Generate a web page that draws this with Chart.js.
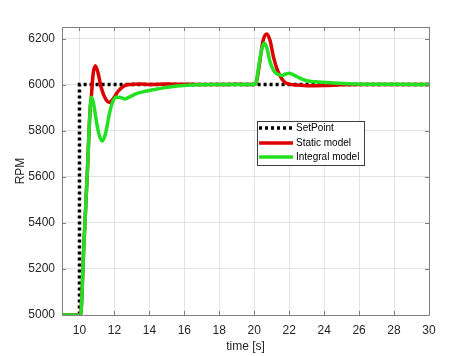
<!DOCTYPE html>
<html>
<head>
<meta charset="utf-8">
<script src="https://cdn.jsdelivr.net/npm/chart.js@4"></script>
<style>
html,body{margin:0;padding:0;background:#fff;}
#c{display:block;}
</style>
</head>
<body>
<canvas id="c" width="474" height="356" style="width:474px;height:356px"></canvas>
<script>
// ---- data ----
const xTickValues = [10,12,14,16,18,20,22,24,26,28,30];
const yTickValues = [5000,5200,5400,5600,5800,6000,6200];

const setpointTime = [9, 10, 10, 30];
const setpointRpm  = [5000, 5000, 6000, 6000];

const staticTime = [9,10.06,10.25,10.45,10.6,10.68,10.78,10.9,11.05,11.25,11.5,11.72,11.95,12.2,12.5,12.8,13.5,14,15,16,17,18,19,20,20.12,20.3,20.5,20.72,20.9,21.1,21.3,21.5,21.75,22,22.5,23,24,25,26,28,30];
const staticRpm  = [5000,5000,5300,5620,5880,5950,6045,6082,6055,5985,5937,5923,5940,5970,5992,6000,6003,6000,6003,6002,6000,6000,6001,6000,6010,6090,6190,6220,6192,6120,6068,6035,6010,6002,5998,5995,5996,5999,6000,6000,6000];

const integralTime = [9,10.06,10.25,10.45,10.6,10.68,10.8,10.95,11.1,11.3,11.5,11.7,11.9,12.1,12.3,12.6,12.9,13.3,13.7,14.2,15,15.6,16.5,17.5,18.5,19.5,20,20.12,20.28,20.45,20.58,20.72,20.9,21.1,21.35,21.6,21.8,22,22.3,22.7,23,23.5,24.5,25.8,27,28,30];
const integralRpm  = [5000,5000,5300,5620,5880,5945,5920,5850,5790,5755,5790,5870,5925,5945,5945,5938,5948,5962,5970,5978,5988,5994,5998,6000,6000,6000,6000,6015,6090,6160,6179,6160,6100,6062,6045,6040,6046,6049,6040,6025,6017,6012,6007,6003,6001,6001,6000];

const seriesLabels = ['SetPoint','Static model','Integral model'];
const xTitle = 'time [s]';
const yTitle = 'RPM';

function pts(xs, ys){ return xs.map((x,i)=>({x:x, y:ys[i]})); }

const AXIS = '#808080';
const TXT = '#262626';
const FONT = "'Liberation Sans', Arial, sans-serif";

const boxPlugin = {
  id:'boxTicks',
  afterDatasetsDraw(chart){
    const {ctx, chartArea:a, scales:{x,y}} = chart;
    ctx.save();
    ctx.strokeStyle = AXIS;
    ctx.lineWidth = 1;
    ctx.beginPath();
    ctx.rect(Math.round(a.left)+0.5, Math.round(a.top)+0.5, Math.round(a.right-a.left), Math.round(a.bottom-a.top));
    ctx.stroke();
    ctx.beginPath();
    const L=4;
    xTickValues.forEach(v=>{
      const px = Math.round(x.getPixelForValue(v))+0.5;
      ctx.moveTo(px, a.bottom); ctx.lineTo(px, a.bottom-L);
      ctx.moveTo(px, a.top); ctx.lineTo(px, a.top+L);
    });
    yTickValues.forEach(v=>{
      const py = Math.round(y.getPixelForValue(v))+0.5;
      ctx.moveTo(a.left, py); ctx.lineTo(a.left+L, py);
      ctx.moveTo(a.right, py); ctx.lineTo(a.right-L, py);
    });
    ctx.stroke();
    ctx.restore();
  },
  afterDraw(chart){
    const ctx = chart.ctx;
    const bx=257, by=121, bw=107, bh=44;
    ctx.save();
    ctx.fillStyle='#fff';
    ctx.fillRect(bx,by,bw,bh);
    ctx.strokeStyle='#404040';
    ctx.lineWidth=1;
    ctx.strokeRect(bx+0.5,by+0.5,bw,bh);
    const rows=[128,143,157];
    chart.data.datasets.forEach((ds,i)=>{
      const yy=rows[i];
      ctx.beginPath();
      ctx.strokeStyle=ds.borderColor;
      ctx.lineWidth=ds.borderWidth;
      ctx.setLineDash(ds.borderDash||[]);
      ctx.moveTo(259,yy); ctx.lineTo(293,yy);
      ctx.stroke();
      ctx.setLineDash([]);
      ctx.fillStyle='#000';
      ctx.font='10px '+FONT;
      ctx.textBaseline='middle';
      ctx.fillText(ds.label,296,yy+0.5);
    });
    ctx.restore();
  }
};

new Chart(document.getElementById('c'), {
  type:'line',
  data:{
    datasets:[
      {label:seriesLabels[0], data:pts(setpointTime,setpointRpm), borderColor:'#000000', borderWidth:3.5, borderDash:[3,3], pointRadius:0, tension:0, order:3},
      {label:seriesLabels[1], data:pts(staticTime,staticRpm), borderColor:'#dc0000', borderWidth:3.5, pointRadius:0, cubicInterpolationMode:'monotone', order:2},
      {label:seriesLabels[2], data:pts(integralTime,integralRpm), borderColor:'#22e022', borderWidth:3.5, pointRadius:0, cubicInterpolationMode:'monotone', order:1}
    ]
  },
  options:{
    responsive:false,
    animation:false,
    layout:{padding:{left:0,right:45,top:27,bottom:0}},
    plugins:{legend:{display:false}, tooltip:{enabled:false}},
    scales:{
      x:{
        type:'linear', min:9, max:30,
        afterBuildTicks(s){ s.ticks = xTickValues.map(v=>({value:v})); },
        afterFit(s){ s.height = 41; },
        grid:{color:'#e3e3e3', drawTicks:false},
        border:{display:false},
        ticks:{padding:8, color:TXT, font:{family:FONT,size:12}, maxRotation:0, autoSkip:false, callback:v=>String(v)},
        title:{display:true, text:xTitle, color:TXT, font:{family:FONT,size:12}, padding:{top:0,bottom:2}}
      },
      y:{
        type:'linear', min:5000, max:6250,
        afterBuildTicks(s){ s.ticks = yTickValues.map(v=>({value:v})); },
        afterFit(s){ s.width = 62; },
        grid:{color:'#e3e3e3', drawTicks:false},
        border:{display:false},
        ticks:{padding:7, color:TXT, font:{family:FONT,size:12}, callback:v=>String(v)},
        title:{display:true, text:yTitle, color:TXT, font:{family:FONT,size:12}, padding:{top:13,bottom:0}}
      }
    }
  },
  plugins:[boxPlugin]
});
</script>
</body>
</html>
